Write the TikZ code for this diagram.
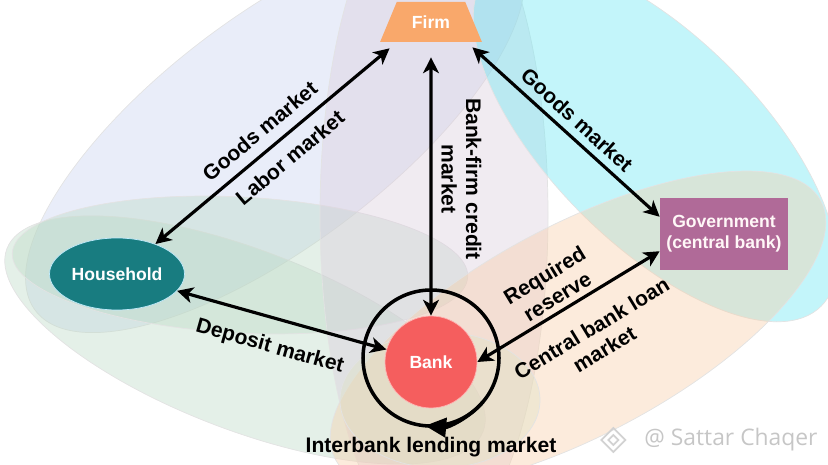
\documentclass[tikz,border=0pt]{standalone}
\usepackage{fontspec}
\setmainfont{Liberation Sans}
\newfontfamily\wmfont{Open Sans}
\usetikzlibrary{arrows.meta,shapes.geometric,positioning}
\definecolor{firmfill}{RGB}{249,168,107}
\definecolor{hhfill}{RGB}{24,124,128}
\definecolor{bankfill}{RGB}{245,94,94}
\definecolor{govfill}{RGB}{176,106,152}
\definecolor{zlav}{RGB}{200,210,240}
\definecolor{zpink}{RGB}{218,204,220}
\definecolor{zcyan}{RGB}{105,230,242}
\definecolor{zpeach}{RGB}{247,205,167}
\definecolor{zgreen}{RGB}{187,217,197}
\definecolor{zmoss}{RGB}{222,226,196}
\tikzset{
    agent/.style = {text=white, font=\fontsize{10}{12}\selectfont\bfseries,
        align=center, inner sep=0pt},
    flow/.style = {draw, line width=1.8pt,
        {Stealth[length=9pt,width=9pt,inset=2.5pt]}-{Stealth[length=9pt,width=9pt,inset=2.5pt]}},
    ring/.style = {draw, line width=2pt},
    lbl/.style = {font=\fontsize{12}{14}\selectfont\bfseries, align=center, inner sep=2pt},
    zone/.style = {fill opacity=0.4, draw=gray!22, line width=0.4pt}
}

\begin{document}
\begin{tikzpicture}[x=0.02cm, y=0.02cm]
    \useasboundingbox (0,0) rectangle (828,-465);
    % market zones
    \begin{scope}
        \clip (0,0) rectangle (828,-465);
        \filldraw[zone, fill=zlav] (275,-130) circle [x radius=300, y radius=115, rotate=37];
        \filldraw[zone, fill=zgreen] (245,-340) circle [x radius=255, y radius=90, rotate=-21];
        \filldraw[zone, fill=zgreen] (240,-265) circle [x radius=228, y radius=68, rotate=-3];
        \filldraw[zone, fill=zpink] (434,-215) circle [x radius=114, y radius=333];
        \filldraw[zone, fill=zcyan] (655,-140) circle [x radius=235, y radius=104, rotate=-45];
        \filldraw[zone, fill=zpeach] (578,-330) circle [x radius=275, y radius=105, rotate=28];
        \filldraw[zone, fill=zmoss] (440,-400) circle [x radius=100, y radius=68];
    \end{scope}

    % agents
    \node (firm) [trapezium, trapezium angle=54, trapezium stretches=true,
        minimum width=2.04cm, minimum height=0.8cm, fill=firmfill, agent] at (431,-22) {Firm};
    \node (hh) [ellipse, minimum width=2.7cm, minimum height=1.44cm,
        fill=hhfill, draw=cyan!25, agent] at (117,-274) {Household};
    \node (bank) [circle, minimum size=1.84cm, fill=bankfill, draw=red!30, agent] at (431,-362) {Bank};
    \node (gov) [rectangle, minimum width=2.56cm, minimum height=1.44cm,
        fill=govfill, agent, text=white!88!pink] at (724,-234) {Government\\(central bank)};
    \coordinate (hub) at ([yshift=0.08cm]bank.center);

    % markets
    \draw[flow] (hh.38) -- ([xshift=0.2cm,yshift=-0.12cm]firm.bottom left corner)
        node[lbl, sloped, pos=.5, above=4pt] {Goods market}
        node[lbl, sloped, pos=.52, below=4pt] {Labor market};
    \draw[flow] ([xshift=-0.2cm,yshift=-0.1cm]firm.bottom right corner) -- (gov.165)
        node[lbl, sloped, midway, above=2pt] {Goods market};
    \draw[flow, shorten <=0.3cm] (firm.south) -- (bank.north)
        node[lbl, midway, rotate=-90, anchor=south, inner sep=5pt] {Bank-firm credit\\market};
    \draw[flow] (hh) -- (bank)
        node[lbl, sloped, pos=.48, below=8pt] {Deposit market};
    \draw[flow] (bank.east) -- (gov.195)
        node[lbl, sloped, pos=.48, above=1pt] {Required\\reserve}
        node[lbl, sloped, pos=.54, below=10pt] {Central bank loan\\market};

    % interbank loop
    \draw[ring] (hub) circle [radius=68];
    \draw[ring, -{Triangle[length=12pt,width=11pt]}] ([shift={(-40:68)}]hub)
        arc [start angle=-40, end angle=-95, radius=68];
    \node (ibl) [lbl, below=0.5cm of bank] {Interbank lending market};

    % watermark
    \node (wm) [font=\wmfont\fontsize{13}{15}\selectfont, text=gray!45] at (731,-440) {@ Sattar Chaqer};
    \draw[gray!35, line width=1pt] ([xshift=-0.5cm]wm.west) ++(0,12) -- ++(12,-12) -- ++(-12,-12) -- ++(-12,12) -- cycle;
    \draw[gray!35, line width=1pt] ([xshift=-0.5cm]wm.west) ++(0,5) -- ++(5,-5) -- ++(-5,-5) -- ++(-5,5) -- cycle;
\end{tikzpicture}
\end{document}
